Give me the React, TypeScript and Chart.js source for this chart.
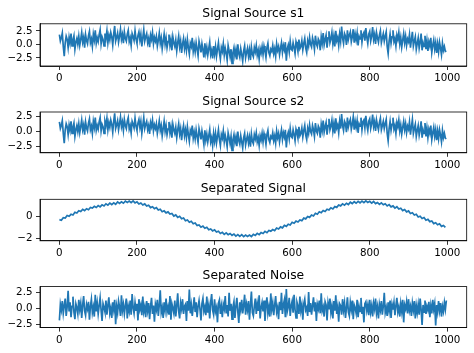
import React, { useEffect, useRef } from "react";
import { Chart, registerables } from "chart.js";

Chart.register(...registerables);

// ---------- data ----------
const panelTitles = ["Signal Source s1", "Signal Source s2", "Separated Signal", "Separated Noise"];

const xTickValues = [0, 200, 400, 600, 800, 1000];
const xTickLabels = ["0", "200", "400", "600", "800", "1000"];

const wideYTicks = [-2.5, 0, 2.5];
const wideYTickLabels = ["\u22122.5", "0.0", "2.5"];
const signalYTicks = [-2, 0];
const signalYTickLabels = ["\u22122", "0"];

// sample spacing along the x axis for each kind of series
const noisySampleStep = 2.5;
const signalSampleStep = 5;

const sourceS1 = [
  1.8, 0.6, 1.2, 2.1, -0.4, -2.2, 0.3, 1.5, 0.9, -0.6,
  1.3, 0.2, 2.0, -0.3, 0.8, 1.6, -0.9, 0.4, 1.1, 0.0,
  1.5, -0.2, 0.9, 2.2, 0.4, 1.3, -0.6, 1.8, 0.7, 0.1,
  1.6, 2.4, 0.3, 1.0, -0.4, 1.9, 0.8, 2.6, 0.2, 1.2,
  0.5, 1.8, 2.7, 0.1, 1.4, 0.9, -0.3, 2.0, 1.1, 2.5,
  0.3, 1.7, 0.8, 2.2, 1.4, -0.1, 1.9, 3.4, 0.6, 1.3,
  2.1, 0.4, 1.5, 2.8, 0.9, 1.8, 0.2, 2.3, 1.1, 0.6,
  1.9, 2.6, 0.5, 1.2, -0.2, 2.0, 1.4, 0.7, 2.5, 1.0,
  0.2, 1.6, 2.3, 0.8, 1.9, -0.4, 1.2, 2.7, 0.6, 1.4,
  2.0, 0.3, 1.1, -0.5, 1.7, 0.9, 2.2, 0.1, 1.3, 0.6,
  1.5, -0.3, 0.8, 2.1, 0.2, 1.2, -0.8, 0.6, 1.9, 0.0,
  1.2, -0.6, 0.5, 1.8, -0.2, 0.9, -1.1, 1.4, 0.3, -0.4,
  0.8, -1.2, 0.3, 1.5, -0.5, 0.6, -1.6, 0.1, 1.1, -0.8,
  0.4, -1.1, 0.9, -0.6, -1.8, 0.2, -0.4, 1.2, -1.3, -0.1,
  -1.4, 0.3, -0.9, -2.1, 0.6, -0.3, -1.5, 0.1, -1.0, -2.4,
  0.2, -1.6, -0.5, -2.0, -0.8, 0.4, -1.9, -1.1, -2.6, -0.3,
  -1.8, -0.4, -2.2, -0.9, 0.3, -1.5, -2.7, -0.6, -1.3, 0.1,
  -2.0, -0.7, -1.6, -2.9, -0.2, -1.2, -2.3, -0.9, -3.5, -1.5,
  -0.6, -2.1, -1.0, -2.8, 0.0, -1.7, -2.4, -0.8, -1.9, -3.1,
  -1.2, -0.3, -2.5, -1.5, -0.7, -2.2, -1.0, -2.9, -0.5, -1.8,
  -2.3, -0.6, -1.4, -0.2, -2.0, -1.1, -2.7, -0.8, -1.6, -0.4,
  -1.9, -0.3, -1.2, -2.4, -0.6, 0.2, -1.5, -2.1, -0.9, -1.3,
  -0.2, -1.7, -0.8, -2.2, 0.1, -1.1, -0.4, -1.9, -0.7, 0.3,
  -1.5, -0.2, -1.0, 0.4, -3.0, -0.8, -0.1, -1.4, 0.6, -0.9,
  -1.1, 0.3, -0.6, -1.7, 0.5, -0.2, -1.3, 0.9, -0.8, -0.4,
  0.7, -1.0, 0.2, 1.1, -0.7, -1.5, 0.6, -0.3, 1.3, 0.0,
  -0.5, 1.2, 0.4, -0.9, 1.6, 0.1, -0.4, 1.0, 0.6, -1.1,
  1.4, 0.2, 2.1, -0.1, 0.9, 1.7, -0.6, 1.2, 2.4, 0.3,
  1.0, 2.2, 0.1, 1.5, -0.4, 2.5, 0.7, 1.3, -0.2, 1.9,
  0.6, 3.3, 1.2, 0.2, 2.0, 1.5, -0.1, 2.6, 0.9, 1.7,
  2.3, 0.5, 1.4, 2.8, 0.3, 1.9, 0.8, 2.1, -0.2, 1.5,
  1.0, 2.6, 0.4, 1.8, 2.2, 0.7, 3.0, 1.3, 0.2, 1.9,
  2.4, 0.6, 1.5, 3.2, 0.9, 1.8, 0.1, 2.2, 1.2, 0.4,
  1.7, 2.5, 0.3, 1.2, 2.0, 0.6, 1.5, 2.3, -0.4, -1.7,
  0.6, 1.9, 0.2, 1.4, 2.6, 0.5, 1.1, -0.3, 1.7, 0.9,
  2.2, 0.1, 1.3, -0.5, 0.8, 2.0, 0.3, 1.5, -0.2, 1.0,
  0.5, 1.8, -0.6, 0.9, 2.3, -0.3, 0.6, 1.4, -0.9, 0.2,
  1.2, -0.7, 0.4, 2.0, -1.1, 0.3, -0.4, 1.6, -0.9, 0.7,
  -1.2, 0.5, -0.3, 1.2, -1.5, -0.2, 0.8, -0.9, 0.3, -1.6,
  0.1, -1.4, 0.4, -0.7, -1.9, 0.2, -1.1, -0.4, -1.3, -1.2,
];

const sourceS2 = [
  1.6, 0.5, 1.0, 1.8, -0.3, -1.9, 0.3, 1.3, 0.8, -0.5,
  1.1, 0.2, 1.7, -0.3, 0.7, 1.4, -0.8, 0.3, 1.0, 0.0,
  1.3, -0.2, 0.8, 1.9, 0.3, 1.1, -0.5, 1.6, 0.6, 0.1,
  1.4, 2.1, 0.3, 0.9, -0.3, 1.7, 0.7, 2.3, 0.2, 1.0,
  0.4, 1.6, 2.3, 0.1, 1.2, 0.8, -0.3, 1.7, 1.0, 2.2,
  0.3, 1.5, 0.7, 1.9, 1.2, -0.1, 1.7, 3.0, 0.5, 1.1,
  1.8, 0.3, 1.3, 2.4, 0.8, 1.6, 0.2, 2.0, 1.0, 0.5,
  1.7, 2.3, 0.4, 1.0, -0.2, 1.7, 1.2, 0.6, 2.2, 0.9,
  0.2, 1.4, 2.0, 0.7, 1.7, -0.3, 1.0, 2.3, 0.5, 1.2,
  1.7, 0.3, 1.0, -0.4, 1.5, 0.8, 1.9, 0.1, 1.1, 0.5,
  1.3, -0.3, 0.7, 1.8, 0.2, 1.0, -0.7, 0.5, 1.7, 0.0,
  1.0, -0.5, 0.4, 1.6, -0.2, 0.8, -1.0, 1.2, 0.3, -0.3,
  0.7, -1.0, 0.3, 1.3, -0.4, 0.5, -1.4, 0.1, 1.0, -0.7,
  0.3, -1.0, 0.8, -0.5, -1.6, 0.2, -0.3, 1.0, -1.1, -0.1,
  -1.2, 0.3, -0.8, -1.8, 0.5, -0.3, -1.3, 0.1, -0.9, -2.1,
  0.2, -1.4, -0.4, -1.7, -0.7, 0.3, -1.7, -1.0, -2.3, -0.3,
  -1.6, -0.3, -1.9, -0.8, 0.3, -1.3, -2.3, -0.5, -1.1, 0.1,
  -1.7, -0.6, -1.4, -2.5, -0.2, -1.0, -2.0, -0.8, -3.1, -1.3,
  -0.5, -1.8, -0.9, -2.4, 0.0, -1.5, -2.1, -0.7, -1.7, -2.7,
  -1.0, -0.3, -2.2, -1.3, -0.6, -1.9, -0.9, -2.5, -0.4, -1.6,
  -2.0, -0.5, -1.2, -0.2, -1.7, -1.0, -2.3, -0.7, -1.4, -0.3,
  -1.7, -0.3, -1.0, -2.1, -0.5, 0.2, -1.3, -1.8, -0.8, -1.1,
  -0.2, -1.5, -0.7, -1.9, 0.1, -1.0, -0.3, -1.7, -0.6, 0.3,
  -1.3, -0.2, -0.9, 0.3, -2.6, -0.7, -0.1, -1.2, 0.5, -0.8,
  -1.0, 0.3, -0.5, -1.5, 0.4, -0.2, -1.1, 0.8, -0.7, -0.3,
  0.6, -0.9, 0.2, 1.0, -0.6, -1.3, 0.5, -0.3, 1.1, 0.0,
  -0.4, 1.0, 0.3, -0.8, 1.4, 0.1, -0.3, 0.9, 0.5, -1.0,
  1.2, 0.2, 1.8, -0.1, 0.8, 1.5, -0.5, 1.0, 2.1, 0.3,
  0.9, 1.9, 0.1, 1.3, -0.3, 2.2, 0.6, 1.1, -0.2, 1.7,
  0.5, 2.9, 1.0, 0.2, 1.7, 1.3, -0.1, 2.3, 0.8, 1.5,
  2.0, 0.4, 1.2, 2.4, 0.3, 1.7, 0.7, 1.8, -0.2, 1.3,
  0.9, 2.3, 0.3, 1.6, 1.9, 0.6, 2.6, 1.1, 0.2, 1.7,
  2.1, 0.5, 1.3, 2.8, 0.8, 1.6, 0.1, 1.9, 1.0, 0.3,
  1.5, 2.2, 0.3, 1.0, 1.7, 0.5, 1.3, 2.0, -0.3, -1.5,
  0.5, 1.7, 0.2, 1.2, 2.3, 0.4, 1.0, -0.3, 1.5, 0.8,
  1.9, 0.1, 1.1, -0.4, 0.7, 1.7, 0.3, 1.3, -0.2, 0.9,
  0.4, 1.6, -0.5, 0.8, 2.0, -0.3, 0.5, 1.2, -0.8, 0.2,
  1.0, -0.6, 0.3, 1.7, -1.0, 0.3, -0.3, 1.4, -0.8, 0.6,
  -1.0, 0.4, -0.3, 1.0, -1.3, -0.2, 0.7, -0.8, 0.3, -1.4,
  0.1, -1.2, 0.3, -0.6, -1.7, 0.2, -1.0, -0.3, -1.1, -1.2,
];

const separatedSignal = [
  -0.31, -0.36, -0.13, -0.16, 0.07, 0.0, 0.18, 0.12, 0.36, 0.29,
  0.5, 0.43, 0.63, 0.52, 0.69, 0.6, 0.81, 0.75, 0.91, 0.8,
  0.98, 0.86, 1.04, 0.94, 1.14, 1.02, 1.2, 1.07, 1.23, 1.1,
  1.31, 1.17, 1.32, 1.19, 1.38, 1.26, 1.39, 1.24, 1.4, 1.22,
  1.32, 1.12, 1.21, 1.03, 1.13, 0.93, 1.01, 0.79, 0.87, 0.69,
  0.79, 0.57, 0.64, 0.42, 0.5, 0.31, 0.4, 0.2, 0.25, 0.02,
  0.12, -0.1, 0.0, -0.22, -0.16, -0.41, -0.34, -0.55, -0.46, -0.68,
  -0.62, -0.85, -0.79, -1.0, -0.9, -1.09, -1.0, -1.23, -1.16, -1.34,
  -1.24, -1.44, -1.36, -1.57, -1.47, -1.65, -1.52, -1.68, -1.57, -1.74,
  -1.63, -1.81, -1.68, -1.83, -1.68, -1.86, -1.71, -1.85, -1.71, -1.85,
  -1.65, -1.75, -1.56, -1.68, -1.49, -1.57, -1.38, -1.5, -1.29, -1.36,
  -1.21, -1.31, -1.08, -1.16, -0.97, -1.06, -0.83, -0.92, -0.72, -0.79,
  -0.55, -0.64, -0.44, -0.52, -0.33, -0.4, -0.17, -0.24, -0.02, -0.1,
  0.11, 0.03, 0.27, 0.19, 0.41, 0.33, 0.53, 0.44, 0.65, 0.58,
  0.78, 0.67, 0.88, 0.81, 1.03, 0.95, 1.13, 1.02, 1.19, 1.07,
  1.28, 1.16, 1.33, 1.19, 1.36, 1.23, 1.38, 1.24, 1.41, 1.26,
  1.37, 1.2, 1.35, 1.16, 1.26, 1.08, 1.22, 1.05, 1.14, 0.94,
  1.06, 0.86, 0.95, 0.74, 0.87, 0.66, 0.73, 0.52, 0.62, 0.4,
  0.49, 0.25, 0.32, 0.12, 0.18, -0.06, 0.01, -0.2, -0.11, -0.36,
  -0.28, -0.49, -0.43, -0.67, -0.59, -0.78, -0.69, -0.92, -0.84, -1.02,
];

const separatedNoise = [
  -1.9, 0.6, -0.3, 1.1, -0.8, 0.4, 1.5, -1.2, 0.2, 2.7,
  -0.5, 0.9, -1.4, 0.3, 1.8, -0.6, -1.7, 0.7, 0.1, -0.9,
  1.3, -0.2, 0.8, -1.5, 0.5, 1.9, -0.4, -1.1, 0.6, -0.1,
  1.0, -1.8, 0.3, 1.4, -0.7, 0.2, -1.3, 2.1, -0.5, 0.8,
  -0.9, 0.4, 1.6, -0.3, -2.0, 0.7, 0.1, -0.6, 1.2, -1.0,
  0.5, 1.7, -0.8, 0.0, -1.5, 0.9, -0.2, 1.3, -2.5, 0.3,
  -0.7, 1.1, 0.2, -1.2, 2.0, -0.4, 0.6, -0.9, 0.4, 1.5,
  -1.6, 0.3, -0.5, 1.2, -1.0, 2.2, 0.1, -0.8, 0.9, -0.3,
  0.7, -1.9, 1.4, -0.2, 0.5, -1.1, 1.8, -0.6, 0.2, -1.4,
  1.1, -0.4, 0.8, -1.7, 0.3, 1.6, -0.9, 0.4, -2.1, 0.6,
  -0.2, 1.3, -1.2, 0.5, 2.8, -0.7, 0.1, -1.5, 0.9, -0.3,
  1.5, -0.6, 0.2, -1.0, 1.9, -1.8, 0.7, 0.0, -0.8, 1.2,
  -1.3, 0.4, 2.3, -0.5, -1.6, 0.8, -0.1, 1.4, -0.9, 0.3,
  0.6, -2.0, 1.1, -0.4, 2.9, -0.8, 0.5, -1.2, 0.2, 1.7,
  -0.6, 0.9, -1.4, 0.3, 1.2, -0.2, -1.9, 0.7, 1.5, -0.5,
  0.2, -1.1, 1.8, -0.7, 0.4, -1.6, 0.9, 2.2, -0.3, -1.0,
  1.4, -0.5, 0.1, -2.2, 0.8, 1.3, -0.9, 0.3, -1.4, 0.6,
  -0.1, 1.9, -0.8, 0.5, -1.3, 2.4, -0.4, 0.7, -1.7, 0.2,
  1.0, -1.5, 0.3, 1.6, -0.6, -2.3, 0.9, -0.2, 1.3, -0.8,
  0.4, 2.1, -1.0, 0.6, -0.3, 1.1, -1.8, 0.5, 2.6, -0.7,
  -1.2, 0.3, 1.5, -0.9, 0.7, -0.4, 2.0, -1.6, 0.1, 0.9,
  -0.5, 1.2, -2.0, 0.4, 1.7, -0.8, 0.2, -1.3, 2.3, -0.2,
  0.8, -1.1, 0.5, 1.9, -0.6, 0.1, -1.7, 1.0, -0.3, 2.4,
  -0.9, 0.6, 1.3, -1.4, 3.0, -0.5, 0.2, 1.6, -1.2, 0.4,
  1.1, -0.7, 2.1, -0.2, -1.5, 0.9, 0.3, -0.9, 1.8, -0.4,
  0.5, -1.8, 0.7, 1.4, -0.3, 0.1, -1.2, 2.5, -0.6, 0.8,
  -1.0, 0.4, 1.7, -0.5, 0.9, -2.0, 0.6, -0.1, 1.2, -0.8,
  2.3, -0.4, 0.2, -1.3, 1.0, 0.5, -1.9, 0.8, -0.2, 1.5,
  -0.7, 0.3, -1.6, 1.1, -0.4, 2.0, -0.9, 0.2, -2.1, 0.7,
  0.4, -1.0, 1.4, -0.3, 0.8, -1.5, 0.1, 1.7, -0.6, -1.2,
  0.9, -0.2, 1.2, -1.7, 0.5, 0.0, -0.8, 1.3, -1.4, 0.3,
  -0.5, 1.6, -0.9, 0.2, -2.2, 0.7, 1.0, -0.4, 0.5, -1.1,
  1.3, -0.6, 0.4, -1.3, 0.8, -0.1, 1.5, -0.8, 0.2, -1.6,
  0.6, -0.3, 1.1, -1.0, 0.3, 2.4, -0.7, 0.1, -1.2, 0.9,
  -0.4, 1.2, -1.5, 0.6, -0.2, 0.9, -1.1, 0.4, 1.6, -0.6,
  0.2, -1.3, 0.7, -0.5, 1.3, -2.2, 0.5, -0.1, 1.0, -0.8,
  1.4, -0.4, 0.3, -1.2, 0.8, -0.3, 1.1, -1.6, 0.4, -0.7,
  0.6, -1.0, 1.5, -0.2, -2.6, 0.5, -0.6, 1.2, -0.9, 0.3,
  -0.3, 1.0, -1.4, 0.4, -0.8, 1.3, -0.2, 0.7, -2.7, 0.5,
  -0.6, 1.1, -0.4, 0.8, -1.3, 0.3, -0.5, 0.9, -0.2, 1.2,
];

// axis limits (value units)
const xLimits = [-50, 1050];
const yLimitsS1 = [-4.0, 3.8];
const yLimitsS2 = [-3.5, 3.23];
const yLimitsSignal = [-2.24, 1.55];
const yLimitsNoise = [-3.02, 3.36];

// ---------- layout / style ----------
const FONT = "DejaVu Sans";
const LINE_COLOR = "#1f77b4";
const LINE_WIDTH = 1.7;
const W = 474;
const CANVAS_H = 88;
const AREA_LEFT = 40;
const AREA_RIGHT = 466.7;
const TITLE_SIZE = 12.3;
const TITLE_GAP = 10.3;
const TICK_SIZE = 10.3;

const panels = [
  { title: panelTitles[0], values: sourceS1, step: noisySampleStep, yLim: yLimitsS1, yTicks: wideYTicks, yLabels: wideYTickLabels, top: 0, areaTop: 23.8, areaBottom: 66.0 },
  { title: panelTitles[1], values: sourceS2, step: noisySampleStep, yLim: yLimitsS2, yTicks: wideYTicks, yLabels: wideYTickLabels, top: 88, areaTop: 112.0, areaBottom: 152.8 },
  { title: panelTitles[2], values: separatedSignal, step: signalSampleStep, yLim: yLimitsSignal, yTicks: signalYTicks, yLabels: signalYTickLabels, top: 175, areaTop: 199.3, areaBottom: 240.8 },
  { title: panelTitles[3], values: separatedNoise, step: noisySampleStep, yLim: yLimitsNoise, yTicks: wideYTicks, yLabels: wideYTickLabels, top: 262, areaTop: 286.6, areaBottom: 327.6 },
];

const framePlugin = {
  id: "frame",
  afterDraw(chart: any) {
    const { ctx, chartArea: a } = chart;
    ctx.save();
    ctx.strokeStyle = "#000";
    ctx.lineWidth = 0.8;
    ctx.strokeRect(a.left, a.top, a.right - a.left, a.bottom - a.top);
    const title = chart.options.plugins.axesTitle?.text;
    if (title) {
      ctx.fillStyle = "#000";
      ctx.font = `${TITLE_SIZE}px "${FONT}"`;
      ctx.textAlign = "center";
      ctx.textBaseline = "middle";
      ctx.fillText(title, (a.left + a.right) / 2, a.top - TITLE_GAP);
    }
    ctx.restore();
  },
};

function Panel({ p }: { p: (typeof panels)[number] }) {
  const ref = useRef<HTMLCanvasElement | null>(null);
  useEffect(() => {
    if (!ref.current) return;
    const xAxisH = p.top + CANVAS_H - p.areaBottom;
    const points = p.values.map((v, i) => ({ x: i * p.step, y: v }));
    const tickFont = { family: FONT, size: TICK_SIZE };
    const chart = new Chart(ref.current, {
      type: "line",
      data: {
        datasets: [
          {
            data: points,
            borderColor: LINE_COLOR,
            borderWidth: LINE_WIDTH,
            pointRadius: 0,
            tension: 0,
            fill: false,
          },
        ],
      },
      options: {
        responsive: false,
        animation: false,
        events: [],
        layout: { padding: { left: 0, right: W - AREA_RIGHT, top: p.areaTop - p.top, bottom: 0 } },
        plugins: {
          legend: { display: false },
          tooltip: { enabled: false },
          title: { display: false },
          axesTitle: { text: p.title },
        },
        scales: {
          x: {
            type: "linear",
            min: xLimits[0],
            max: xLimits[1],
            afterBuildTicks: (s: any) => {
              s.ticks = xTickValues.map((v) => ({ value: v }));
            },
            afterFit: (s: any) => {
              s.height = xAxisH;
            },
            ticks: {
              color: "#000",
              font: tickFont,
              padding: 2.5,
              maxRotation: 0,
              autoSkip: false,
              callback: (_v: any, i: number) => xTickLabels[i],
            },
            grid: { display: true, drawOnChartArea: false, drawTicks: true, tickLength: 4, color: "#000", lineWidth: 0.8 },
            border: { display: true, color: "#000", width: 0.8 },
          },
          y: {
            type: "linear",
            min: p.yLim[0],
            max: p.yLim[1],
            afterBuildTicks: (s: any) => {
              s.ticks = p.yTicks.map((v) => ({ value: v }));
            },
            afterFit: (s: any) => {
              s.width = AREA_LEFT;
            },
            ticks: {
              color: "#000",
              font: tickFont,
              padding: 3.5,
              autoSkip: false,
              callback: (_v: any, i: number) => p.yLabels[i],
            },
            grid: { display: true, drawOnChartArea: false, drawTicks: true, tickLength: 4, color: "#000", lineWidth: 0.8 },
            border: { display: true, color: "#000", width: 0.8 },
          },
        },
      } as any,
      plugins: [framePlugin],
    });
    return () => chart.destroy();
  }, [p]);
  return (
    <canvas
      ref={ref}
      width={W}
      height={CANVAS_H}
      style={{ position: "absolute", left: 0, top: p.top, width: W, height: CANVAS_H, display: "block" }}
    />
  );
}

export default function App() {
  return (
    <div style={{ position: "fixed", left: 0, top: 0, width: W, height: 353, background: "#fff", overflow: "hidden" }}>
      {panels.map((p, i) => (
        <Panel key={i} p={p} />
      ))}
    </div>
  );
}
